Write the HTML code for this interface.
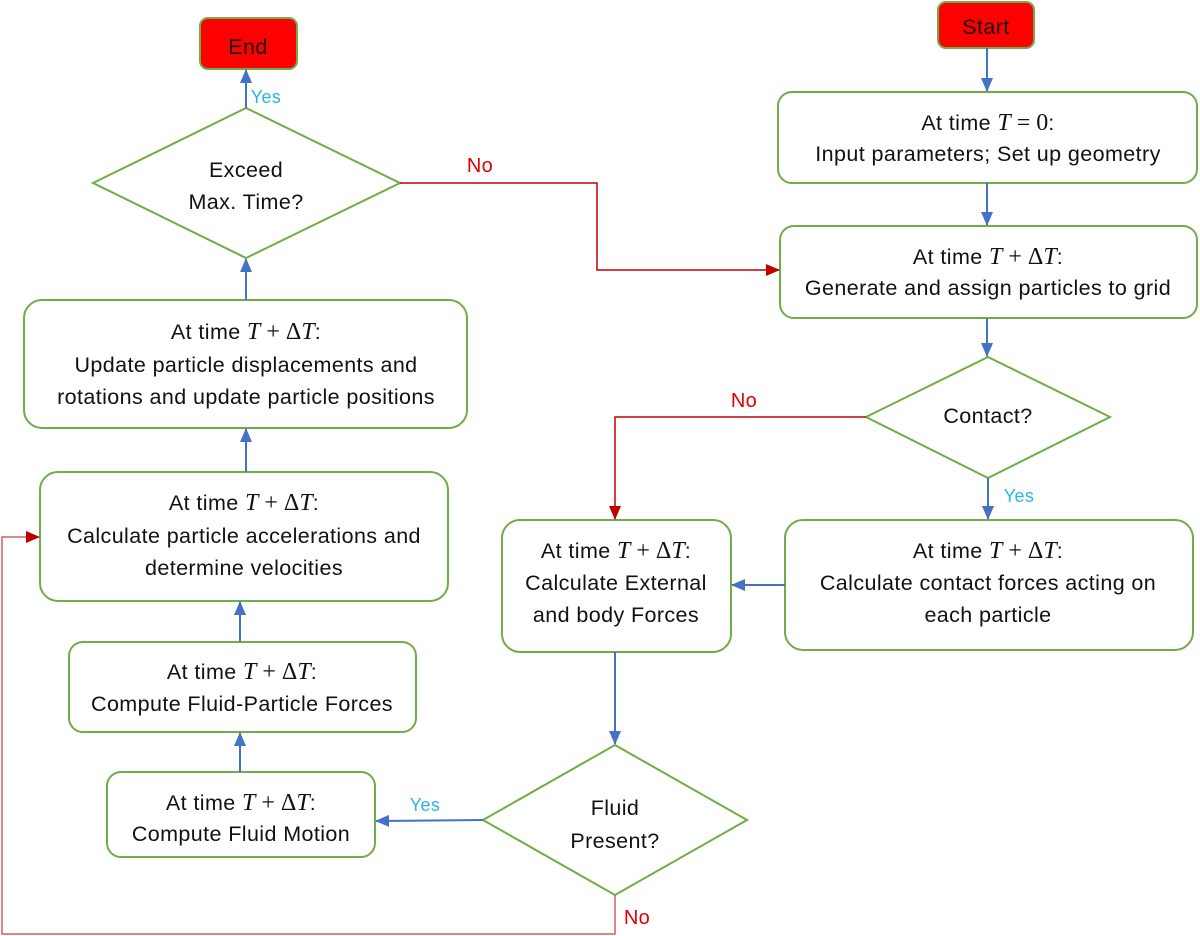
<!DOCTYPE html>
<html><head><meta charset="utf-8"><style>
html,body{margin:0;padding:0;background:#fff;}
svg{display:block;}
text{font-family:"Liberation Sans",sans-serif;font-size:21.5px;letter-spacing:0.4px;fill:#111;text-anchor:middle;}
.m{font-family:"Liberation Serif",serif;font-style:italic;font-size:24px;letter-spacing:0;}
.r{font-family:"Liberation Serif",serif;font-size:24px;letter-spacing:0;}
.y{fill:#29b6e8;font-size:18px;}
.n{fill:#e00000;font-size:20px;}
</style></head><body>
<svg width="1200" height="936" viewBox="0 0 1200 936" xmlns="http://www.w3.org/2000/svg">
<defs>
<marker id="ab" markerWidth="14" markerHeight="12" refX="13" refY="6" orient="auto" markerUnits="userSpaceOnUse"><path d="M0,0 L14,6 L0,12 z" fill="#4472c4"/></marker>
<marker id="ar" markerWidth="14" markerHeight="12" refX="13" refY="6" orient="auto" markerUnits="userSpaceOnUse"><path d="M0,0 L14,6 L0,12 z" fill="#c00000"/></marker>
</defs>
<g fill="#fff" stroke="#70ad47" stroke-width="2">
<rect x="200" y="18" width="97" height="51" rx="8" fill="#ff0000"/>
<rect x="938" y="2" width="96" height="46" rx="8" fill="#ff0000"/>
<polygon points="93,183 246,108 400,183 246,258"/>
<rect x="24" y="300" width="443" height="128" rx="18"/>
<rect x="40" y="472" width="408" height="129" rx="18"/>
<rect x="69" y="642" width="347" height="90" rx="14"/>
<rect x="107" y="772" width="268" height="85" rx="14"/>
<polygon points="483,820 615,745 747,820 615,895"/>
<rect x="778" y="92" width="419" height="91" rx="14"/>
<rect x="780" y="226" width="417" height="92" rx="14"/>
<polygon points="866,417 988,357 1110,417 988,478"/>
<rect x="785" y="520" width="408" height="130" rx="18"/>
<rect x="502" y="520" width="229" height="132" rx="18"/>
</g>
<g stroke="#4472c4" stroke-width="2" fill="none" marker-end="url(#ab)">
<line x1="246" y1="108" x2="246" y2="70"/>
<line x1="246" y1="300" x2="246" y2="259"/>
<line x1="246" y1="472" x2="246" y2="429"/>
<line x1="240" y1="642" x2="240" y2="602"/>
<line x1="240" y1="772" x2="240" y2="733"/>
<line x1="483" y1="820" x2="376" y2="821"/>
<line x1="987" y1="48" x2="987" y2="91"/>
<line x1="987" y1="183" x2="987" y2="225"/>
<line x1="987" y1="318" x2="987" y2="356"/>
<line x1="988" y1="478" x2="988" y2="519"/>
<line x1="785" y1="585" x2="732" y2="585"/>
<line x1="615" y1="652" x2="615" y2="744"/>
</g>
<g stroke="#c00000" stroke-width="1.5" fill="none" marker-end="url(#ar)">
<polyline points="400,183 597,183 597,270 779,270"/>
<polyline points="866,417 615,417 615,519"/>
<polyline points="615,895 615,934 2,934 2,537 39,537" stroke="#d06060"/>
</g>
<text x="248" y="54">End</text>
<text x="986" y="34">Start</text>
<text class="y" x="266" y="103">Yes</text>
<text class="y" x="425" y="811">Yes</text>
<text class="y" x="1019" y="502">Yes</text>
<text class="n" x="480" y="172">No</text>
<text class="n" x="744" y="407">No</text>
<text class="n" x="637" y="924">No</text>
<text x="246" y="177">Exceed</text>
<text x="246" y="209">Max. Time?</text>
<text x="615" y="815">Fluid</text>
<text x="615" y="848">Present?</text>
<text x="988" y="423">Contact?</text>
<g>
<text x="988" y="130">At time <tspan class="m">T</tspan><tspan class="r"> = 0</tspan>:</text>
<text x="988" y="161">Input parameters; Set up geometry</text>
<text x="988" y="264">At time <tspan class="m">T</tspan><tspan class="r"> + Δ</tspan><tspan class="m">T</tspan>:</text>
<text x="988" y="295">Generate and assign particles to grid</text>
<text x="988" y="558">At time <tspan class="m">T</tspan><tspan class="r"> + Δ</tspan><tspan class="m">T</tspan>:</text>
<text x="988" y="590">Calculate contact forces acting on</text>
<text x="988" y="622">each particle</text>
<text x="616" y="558">At time <tspan class="m">T</tspan><tspan class="r"> + Δ</tspan><tspan class="m">T</tspan>:</text>
<text x="616" y="590">Calculate External</text>
<text x="616" y="622">and body Forces</text>
<text x="246" y="339">At time <tspan class="m">T</tspan><tspan class="r"> + Δ</tspan><tspan class="m">T</tspan>:</text>
<text x="246" y="372">Update particle displacements and</text>
<text x="246" y="404">rotations and update particle positions</text>
<text x="244" y="510">At time <tspan class="m">T</tspan><tspan class="r"> + Δ</tspan><tspan class="m">T</tspan>:</text>
<text x="244" y="543">Calculate particle accelerations and</text>
<text x="244" y="575">determine velocities</text>
<text x="242" y="679">At time <tspan class="m">T</tspan><tspan class="r"> + Δ</tspan><tspan class="m">T</tspan>:</text>
<text x="242" y="711">Compute Fluid-Particle Forces</text>
<text x="241" y="810">At time <tspan class="m">T</tspan><tspan class="r"> + Δ</tspan><tspan class="m">T</tspan>:</text>
<text x="241" y="841">Compute Fluid Motion</text>
</g>
</svg>
</body></html>
